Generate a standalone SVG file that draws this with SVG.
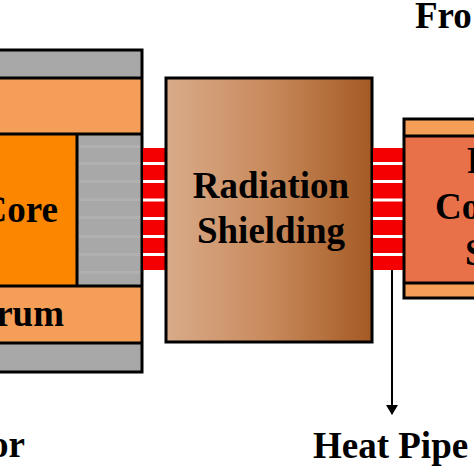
<svg xmlns="http://www.w3.org/2000/svg" width="474" height="474" viewBox="0 0 474 474">
<style>
.ln{stroke:#000;stroke-width:3;}
.gray{fill:#a8a8a8;}
.band{fill:#f59e58;}
.t{font-family:"Liberation Serif","Times New Roman",serif;font-weight:bold;font-size:37px;fill:#000;}
.red{fill:#f50000;}
.wh{fill:#ffffff;}
.gs{fill:#b2afaf;}
</style>
<defs>
<linearGradient id="rs" x1="0" y1="0" x2="1" y2="0">
<stop offset="0" stop-color="#d9ab8a"/>
<stop offset="0.5" stop-color="#c88a5c"/>
<stop offset="1" stop-color="#a45a24"/>
</linearGradient>
<marker id="ah" viewBox="0 0 10 12" refX="9" refY="6" markerWidth="5" markerHeight="6" orient="auto" markerUnits="strokeWidth">
<path d="M0,0 L10,6 L0,12 z" fill="#000"/>
</marker>
</defs>

<g id="reactor">
<rect class="gray" x="-5" y="50" width="147" height="28"/>
<rect class="band" x="-5" y="78" width="147" height="56"/>
<rect x="-5" y="134" width="82" height="152" fill="#fd8600"/>
<rect class="gray" x="77" y="134" width="65" height="152"/>
<rect class="gs" x="79" y="145" width="62" height="3"/>
<rect class="gs" x="79" y="162" width="62" height="3"/>
<rect class="gs" x="79" y="180" width="62" height="3"/>
<rect class="gs" x="79" y="198" width="62" height="3"/>
<rect class="gs" x="79" y="216" width="62" height="3"/>
<rect class="gs" x="79" y="235" width="62" height="3"/>
<rect class="gs" x="79" y="253" width="62" height="3"/>
<rect class="gs" x="79" y="271" width="62" height="3"/>
<rect class="band" x="-5" y="286" width="147" height="57"/>
<rect class="gray" x="-5" y="343" width="147" height="29"/>
<rect class="ln" x="-5" y="50" width="147" height="322" fill="none"/>
<line class="ln" x1="-5" y1="78" x2="142" y2="78"/>
<line class="ln" x1="-5" y1="134" x2="142" y2="134"/>
<line class="ln" x1="-5" y1="286" x2="142" y2="286"/>
<line class="ln" x1="-5" y1="343" x2="142" y2="343"/>
<line class="ln" x1="77" y1="134" x2="77" y2="286"/>
<text class="t" x="58" y="222" text-anchor="end">Core</text>
<text class="t" x="64" y="326" text-anchor="end">rum</text>
</g>

<g id="heatpipe-left">
<rect class="red" x="143" y="148" width="22" height="122"/>
<rect class="wh" x="143" y="162" width="22" height="3"/>
<rect class="wh" x="143" y="180" width="22" height="3"/>
<rect class="wh" x="143" y="198.5" width="22" height="3"/>
<rect class="wh" x="143" y="217" width="22" height="3"/>
<rect class="wh" x="143" y="235" width="22" height="3"/>
<rect class="wh" x="143" y="253" width="22" height="3"/>
</g>

<g id="shielding">
<rect class="ln" x="166" y="78" width="206" height="264" fill="url(#rs)"/>
<text class="t" x="271" y="198" text-anchor="middle">Radiation</text>
<text class="t" x="271" y="243" text-anchor="middle">Shielding</text>
</g>

<g id="heatpipe-right">
<rect class="red" x="373" y="148" width="30" height="122"/>
<rect class="wh" x="373" y="162" width="30" height="3"/>
<rect class="wh" x="373" y="180" width="30" height="3"/>
<rect class="wh" x="373" y="198.5" width="30" height="3"/>
<rect class="wh" x="373" y="217" width="30" height="3"/>
<rect class="wh" x="373" y="235" width="30" height="3"/>
<rect class="wh" x="373" y="253" width="30" height="3"/>
</g>

<g id="conversion">
<rect class="band" x="404" y="119" width="80" height="179"/>
<rect x="404" y="136" width="80" height="147" fill="#e9714a"/>
<rect class="ln" x="404" y="119" width="80" height="179" fill="none"/>
<line class="ln" x1="404" y1="136" x2="484" y2="136"/>
<line class="ln" x1="404" y1="283" x2="484" y2="283"/>
<text class="t" x="467" y="173">P</text>
<text class="t" x="435" y="219">Co</text>
<text class="t" x="465" y="265">S</text>
</g>

<g id="connectors">
<line x1="392" y1="270" x2="392" y2="414" stroke="#000" stroke-width="2" marker-end="url(#ah)"/>
</g>

<g id="labels">
<text class="t" x="415" y="28">Fro</text>
<text class="t" x="313" y="458">Heat Pipe</text>
<text class="t" x="25" y="457" text-anchor="end">or</text>
</g>
</svg>
